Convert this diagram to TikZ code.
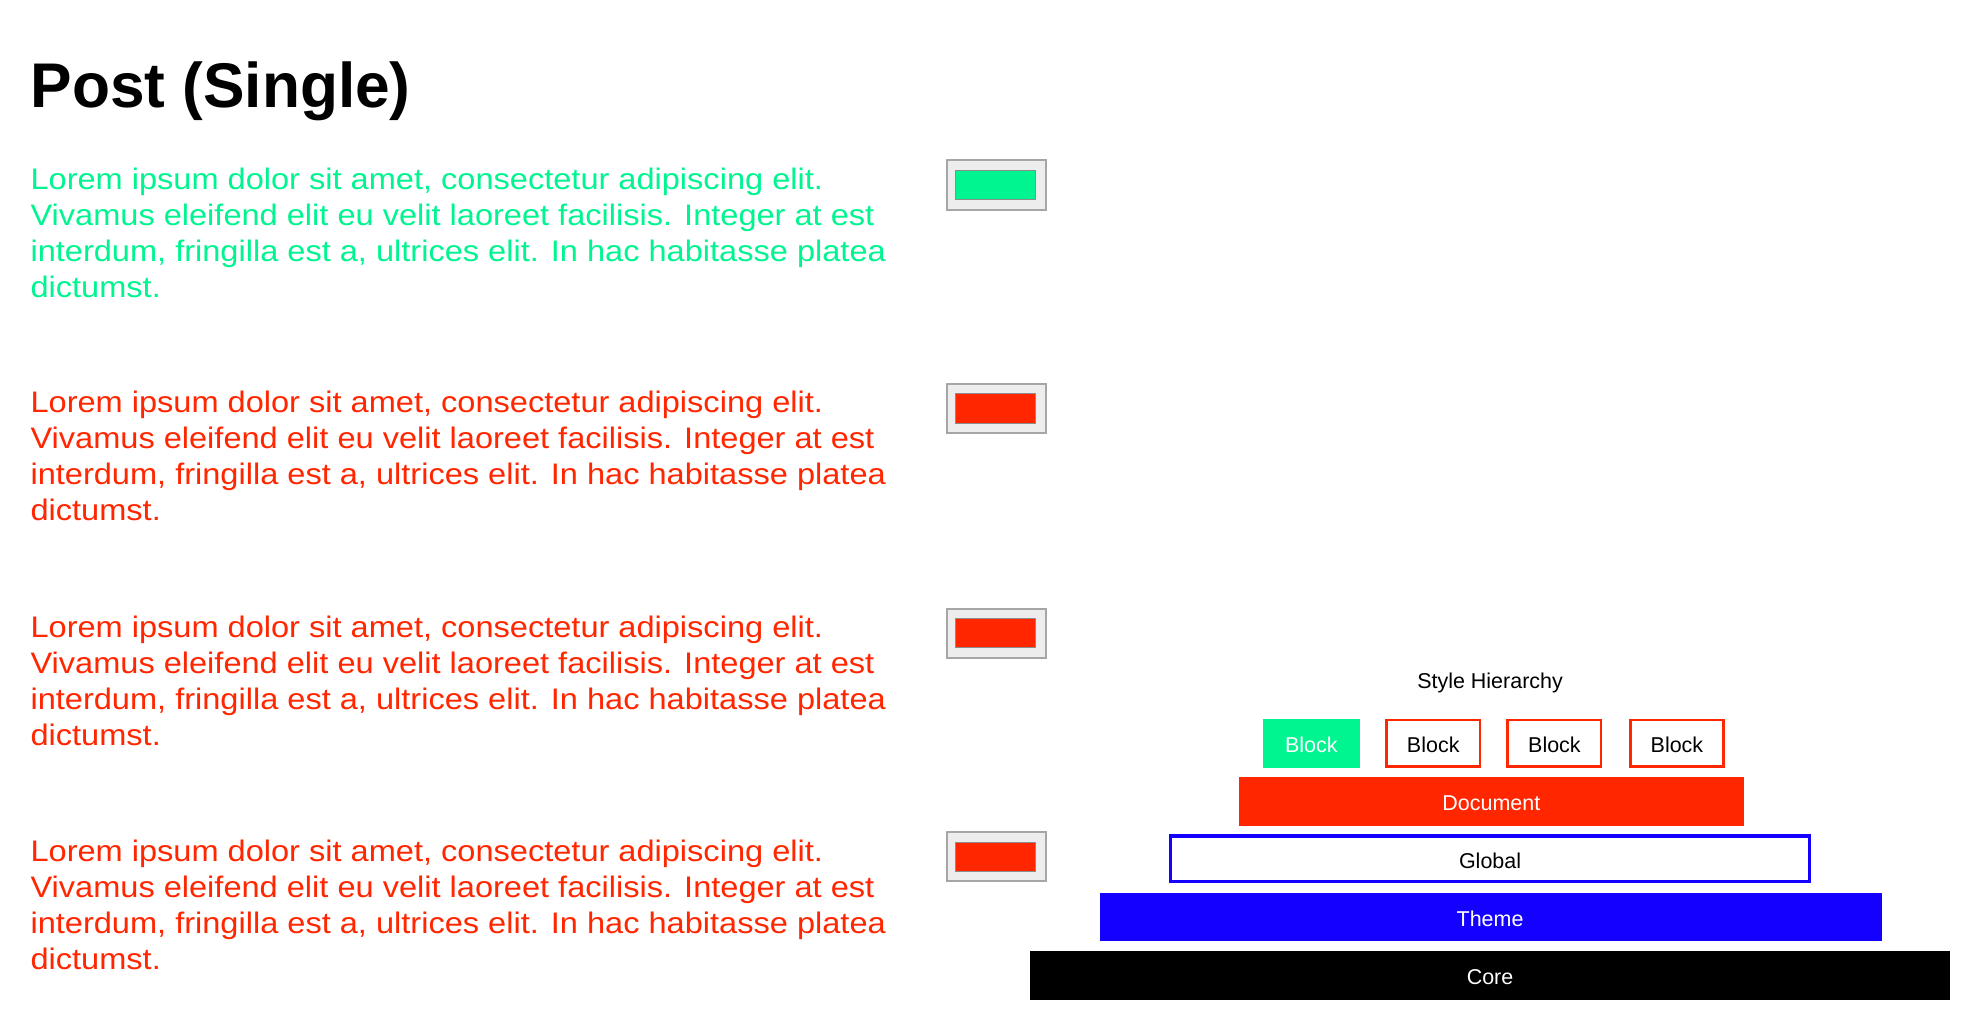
\documentclass[tikz,border=0pt]{standalone}
\usepackage{fontspec}
\usepackage{graphicx}
\setmainfont{Liberation Sans}
\definecolor{gr}{HTML}{00F591}
\definecolor{rd}{HTML}{FF2600}
\definecolor{bl}{HTML}{1400FF}
\newcommand{\widetxt}[1]{\scalebox{1.097}[1]{#1}}
\tikzset{
 para/.style={anchor=base west,inner sep=0,font=\fontsize{23.5}{28}\selectfont},
 sw/.style={draw=black!35,fill=black!7,line width=1.5pt},
 lbl/.style={font=\fontsize{17}{20}\selectfont,inner sep=0}
}
\begin{document}
\begin{tikzpicture}[x=1pt,y=-1pt]
\useasboundingbox (0,0) rectangle (1568,815);
\fill[white] (0,0) rectangle (1568,815);
\node[anchor=base west,inner sep=0,font=\fontsize{50}{56}\bfseries\selectfont] (title) at (24,85) {\scalebox{0.985}[1]{Post (Single)}};
\foreach \y/\c [count=\i] in {150/gr,327/rd,505/rd,682/rd}{
 \node[para,text=\c] (p\i a) at (24,\y) {\widetxt{Lorem ipsum dolor sit amet, consectetur adipiscing elit.}};
 \node[para,text=\c] (p\i b) at (24,\y+28.5) {\widetxt{Vivamus eleifend elit eu velit laoreet facilisis. Integer at est}};
 \node[para,text=\c] (p\i c) at (24,\y+57) {\widetxt{interdum, fringilla est a, ultrices elit. In hac habitasse platea}};
 \node[para,text=\c] (p\i d) at (24,\y+85.5) {\widetxt{dictumst.}};
 \draw[sw] (750,\y-23) rectangle (828,\y+16);
 \fill[\c,draw=black!45,line width=0.8pt] (757,\y-15) rectangle (820,\y+8);
}
\node[lbl] (sh) at (1180,541) {Style Hierarchy};
\fill[gr] (1000,569) rectangle (1077,608);
\node[lbl,text=white] (b1) at (1038.5,590) {Block};
\foreach \x [count=\i from 2] in {1097,1193,1290}{
 \draw[rd,line width=2pt] (\x+1,570) rectangle (\x+75,607);
 \node[lbl] (b\i) at (\x+38,590) {Block};
}
\fill[rd] (981,615) rectangle (1381,654);
\node[lbl,text=white] (doc) at (1181,636) {Document};
\draw[bl,line width=2.5pt] (927,662) rectangle (1433,698);
\node[lbl] (glob) at (1180,682) {Global};
\fill[bl] (871,707) rectangle (1490,745);
\node[lbl,text=white] (theme) at (1180,728) {Theme};
\fill[black] (816,753) rectangle (1544,792);
\node[lbl,text=white] (core) at (1180,774) {Core};
\end{tikzpicture}
\end{document}
